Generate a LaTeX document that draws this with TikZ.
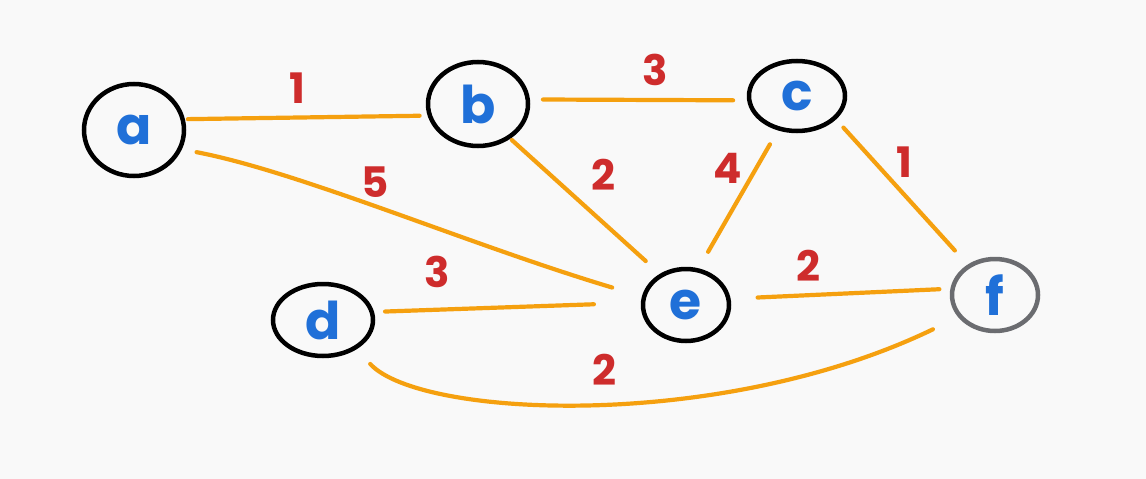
\documentclass[tikz,border=0pt]{standalone}
\usepackage{fontspec}
\setmainfont{Poppins}
\usetikzlibrary{shapes.geometric}
\definecolor{bg}{HTML}{F9F9F9}
\definecolor{edgeor}{HTML}{F5A00F}
\definecolor{numred}{HTML}{CE2C2C}
\definecolor{letblue}{HTML}{2070D8}
\definecolor{ringgray}{HTML}{6B6C70}
\begin{document}
\begin{tikzpicture}[x=1pt,y=-1pt,
  vertex/.style={ellipse, draw=black, line width=4.5pt, inner sep=0pt,
    text=letblue, font=\fontsize{52}{60}\selectfont\bfseries},
  edge/.style={draw=edgeor, line width=4.2pt, line cap=round},
  wlabel/.style={text=numred, font=\fontsize{42}{50}\selectfont\bfseries, inner sep=0pt}]
\fill[bg] (0,0) rectangle (1146,479);
\useasboundingbox (0,0) rectangle (1146,479);
% vertices
\node[vertex, minimum width=100pt, minimum height=92pt] (a) at (134,130) {a};
\node[vertex, minimum width=100pt, minimum height=84pt] (b) at (478,104) {b};
\node[vertex, minimum width=96pt, minimum height=70pt] (c) at (797,96) {c};
\node[vertex, minimum width=100pt, minimum height=72pt] (d) at (323,320) {d};
\node[vertex, minimum width=86pt, minimum height=72pt] (e) at (686,305) {e};
\node[vertex, draw=ringgray, minimum width=86pt, minimum height=72pt] (f) at (995,295) {f};
% edges
\draw[edge, shorten <=3pt, shorten >=8pt] (a.12) -- (b.193);
\draw[edge, shorten <=13pt, shorten >=14pt] (b.5) -- (c.185);
\draw[edge, shorten <=15pt, shorten >=31pt] (a.-22) .. controls (300,172) and (470,245) .. (e.169);
\draw[edge, shorten <=2pt, shorten >=19pt] (b.-47) -- (e.130);
\draw[edge, shorten <=16pt, shorten >=19pt] (c.-119) -- (e.71);
\draw[edge, shorten <=11pt, shorten >=19pt] (c.-31) -- (f.132);
\draw[edge, shorten <=11pt, shorten >=47pt] (d.9) -- (e.177);
\draw[edge, shorten <=27pt, shorten >=11pt] (e.8) -- (f.172);
\draw[edge, shorten <=20pt, shorten >=28pt] (d.-41) .. controls (420,418) and (720,432) .. (f.211);
% weights
\node[wlabel] (wab) at (297,88) {1};
\node[wlabel] (wbc) at (655,70) {3};
\node[wlabel] (wae) at (375,182) {5};
\node[wlabel] (wbe) at (603,175) {2};
\node[wlabel] (wce) at (728,168) {4};
\node[wlabel] (wcf) at (904,162) {1};
\node[wlabel] (wde) at (437,272) {3};
\node[wlabel] (wef) at (808,266) {2};
\node[wlabel] (wdf) at (604,370) {2};
\end{tikzpicture}
\end{document}
